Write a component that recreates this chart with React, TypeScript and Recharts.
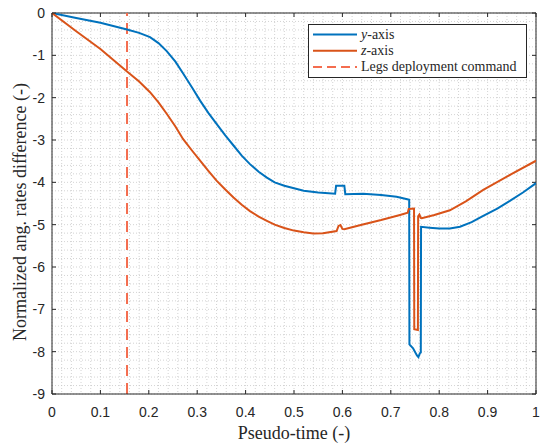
import React from 'react';
import * as RC from 'recharts';
import {
  LineChart,
  Line,
  XAxis,
  YAxis,
  CartesianGrid,
  ReferenceLine,
  Legend
} from 'recharts';

// y-axis (blue) series
const yAxisTime = [
  0, 0.05, 0.1, 0.155, 0.18, 0.2025, 0.22, 0.237, 0.255, 0.271, 0.29, 0.306, 0.323, 0.34,
  0.358, 0.375, 0.392, 0.409, 0.427, 0.444, 0.46, 0.48, 0.5, 0.52, 0.55, 0.585, 0.587,
  0.604, 0.606, 0.643, 0.68, 0.712, 0.734, 0.738, 0.7385, 0.746, 0.754, 0.757, 0.76,
  0.762, 0.7625, 0.78, 0.8, 0.822, 0.843, 0.867, 0.891, 0.92, 0.946, 0.973, 1.0
];
const yAxisDiff = [
  0, -0.12, -0.23, -0.39, -0.47, -0.57, -0.71, -0.9, -1.15, -1.43, -1.77, -2.07, -2.36, -2.62,
  -2.89, -3.13, -3.37, -3.57, -3.75, -3.89, -4.0, -4.08, -4.14, -4.2, -4.24, -4.27, -4.08,
  -4.08, -4.28, -4.27, -4.3, -4.34, -4.4, -4.41, -7.83, -7.92, -8.09, -8.13, -8.04,
  -8.02, -5.05, -5.07, -5.09, -5.09, -5.05, -4.94, -4.79, -4.62, -4.44, -4.24, -4.02
];

// z-axis (orange) series
const zAxisTime = [
  0, 0.05, 0.1, 0.155, 0.18, 0.2025, 0.22, 0.237, 0.255, 0.271, 0.29, 0.306, 0.323, 0.34,
  0.358, 0.375, 0.392, 0.409, 0.427, 0.444, 0.46, 0.48, 0.5, 0.52, 0.54, 0.56, 0.588,
  0.592, 0.596, 0.6, 0.604, 0.64, 0.68, 0.719, 0.735, 0.737, 0.748, 0.7485, 0.756,
  0.7565, 0.759, 0.762, 0.764, 0.79, 0.822, 0.855, 0.891, 0.95, 1.0
];
const zAxisDiff = [
  0, -0.43, -0.85, -1.38, -1.62, -1.87, -2.11, -2.38, -2.68, -2.98, -3.26, -3.49, -3.73, -3.96,
  -4.17, -4.36, -4.53, -4.68, -4.81, -4.91, -5.0, -5.08, -5.14, -5.18, -5.21, -5.2, -5.15,
  -5.03, -5.01, -5.1, -5.11, -5.0, -4.89, -4.77, -4.72, -4.63, -4.62, -7.47, -7.49,
  -4.8, -4.76, -4.84, -4.85, -4.77, -4.66, -4.45, -4.18, -3.8, -3.49
];

const legsDeployTime = 0.155;

const xTicks = [0, 0.1, 0.2, 0.3, 0.4, 0.5, 0.6, 0.7, 0.8, 0.9, 1];
const yTicks = [-9, -8, -7, -6, -5, -4, -3, -2, -1, 0];

// minor grid (dotted), every 0.02 in x and 0.2 in y
const gridX = Array.from({ length: 51 }, (_, i) => i / 50);
const gridY = Array.from({ length: 46 }, (_, i) => -9 + i * 0.2);

const yData = yAxisTime.map((t, i) => ({ t, v: yAxisDiff[i] }));
const zData = zAxisTime.map((t, i) => ({ t, v: zAxisDiff[i] }));

const BLUE = '#0072BD';
const ORANGE = '#D95319';
const DASH = '#F46D4F';
const AXIS = '#262626';
const SERIF = '"Liberation Serif", "Times New Roman", serif';
const SANS = '"Liberation Sans", Arial, sans-serif';
const TICK_LEN = 4;

const tickStyle = { fontSize: 14, fill: AXIS, fontFamily: SANS };

const LegendBox = () => {
  const rows = [
    { color: BLUE, dash: undefined, italic: 'y', rest: '-axis' },
    { color: ORANGE, dash: undefined, italic: 'z', rest: '-axis' },
    { color: DASH, dash: '9 5', italic: '', rest: 'Legs deployment command' }
  ];
  return (
    <svg width={219} height={54} style={{ display: 'block' }}>
      <rect x={0.5} y={0.5} width={218} height={53} fill="#fff" stroke={AXIS} strokeWidth={1} />
      {rows.map((r, i) => {
        const cy = 10.5 + i * 16.2;
        return (
          <g key={i}>
            <line x1={5} x2={49} y1={cy} y2={cy} stroke={r.color} strokeWidth={2} strokeDasharray={r.dash} />
            <text x={53} y={cy + 4.5} fontSize={14} fontFamily={SERIF} fill={AXIS}>
              {r.italic && <tspan fontStyle="italic">{r.italic}</tspan>}
              {r.rest}
            </text>
          </g>
        );
      })}
    </svg>
  );
};

const YLabel = (props: any) => {
  const vb = props.viewBox || { x: 0 };
  const cx = (vb.x || 0) + 26;
  const cy = 212;
  return (
    <text
      x={cx}
      y={cy}
      transform={`rotate(-90, ${cx}, ${cy})`}
      textAnchor="middle"
      fontSize={18}
      fontFamily={SERIF}
      fill={AXIS}
    >
      Normalized ang. rates difference (-)
    </text>
  );
};

// box frame with inward ticks on the top and right edges (MATLAB "box on")
const usePlotAreaSafe: () => any = (RC as any).usePlotArea || (() => null);
const useOffsetSafe: () => any = (RC as any).useOffset || (() => null);

const BoxFrame = () => {
  const area = usePlotAreaSafe();
  const off = useOffsetSafe();
  let x = 0, y = 0, w = 0, h = 0;
  if (area && area.width) {
    x = area.x; y = area.y; w = area.width; h = area.height;
  } else if (off && off.width) {
    x = off.left; y = off.top; w = off.width; h = off.height;
  } else {
    return null;
  }
  return (
    <g>
      <line x1={x} x2={x + w} y1={y} y2={y} stroke={AXIS} strokeWidth={1} />
      <line x1={x + w} x2={x + w} y1={y} y2={y + h} stroke={AXIS} strokeWidth={1} />
      {xTicks.map((t) => (
        <line key={`tt-${t}`} x1={x + t * w} x2={x + t * w} y1={y} y2={y + TICK_LEN} stroke={AXIS} strokeWidth={1} />
      ))}
      {yTicks.map((t) => {
        const ty = y + (-t / 9) * h;
        return <line key={`rt-${t}`} x1={x + w} x2={x + w - TICK_LEN} y1={ty} y2={ty} stroke={AXIS} strokeWidth={1} />;
      })}
    </g>
  );
};

const vGrid = ({ xAxis, offset }: any) =>
  gridX.map((v) =>
    xAxis && typeof xAxis.scale === 'function' ? xAxis.scale(v) : offset.left + v * offset.width
  );
const hGrid = ({ yAxis, offset }: any) =>
  gridY.map((v) =>
    yAxis && typeof yAxis.scale === 'function'
      ? yAxis.scale(v)
      : offset.top + (-v / 9) * offset.height
  );

const App: React.FC = () => {
  return (
    <div style={{ position: 'absolute', left: 0, top: 0, width: 550, height: 448, background: '#fff' }}>
      <LineChart width={550} height={448} margin={{ top: 13, right: 14, bottom: 0, left: 0 }}>
        <CartesianGrid
          verticalCoordinatesGenerator={vGrid}
          horizontalCoordinatesGenerator={hGrid}
          stroke="#c8c8c8"
          strokeDasharray="1 2"
          strokeWidth={0.8}
        />
        <XAxis
          dataKey="t"
          type="number"
          domain={[0, 1]}
          ticks={xTicks}
          allowDataOverflow
          height={54}
          stroke={AXIS}
          tickSize={-TICK_LEN}
          tickMargin={17}
          tick={tickStyle}
          label={{
            value: 'Pseudo-time (-)',
            position: 'insideBottom',
            offset: 9,
            style: { fontSize: 18, fontFamily: SERIF, fill: AXIS }
          }}
        />
        <YAxis
          type="number"
          domain={[-9, 0]}
          ticks={yTicks}
          allowDataOverflow
          width={52}
          stroke={AXIS}
          tickSize={-TICK_LEN}
          tickMargin={11}
          tick={tickStyle}
          label={YLabel}
        />
        <ReferenceLine x={legsDeployTime} stroke={DASH} strokeWidth={2} strokeDasharray="11 7" />
        <Line
          data={yData}
          dataKey="v"
          type="linear"
          stroke={BLUE}
          strokeWidth={2}
          dot={false}
          isAnimationActive={false}
        />
        <Line
          data={zData}
          dataKey="v"
          type="linear"
          stroke={ORANGE}
          strokeWidth={2}
          dot={false}
          isAnimationActive={false}
        />
        <BoxFrame />
        <Legend
          layout="vertical"
          align="center"
          verticalAlign="middle"
          content={() => <LegendBox />}
          wrapperStyle={{ position: 'absolute', left: 308, top: 24, width: 219, height: 54 }}
        />
      </LineChart>
    </div>
  );
};

export default App;
